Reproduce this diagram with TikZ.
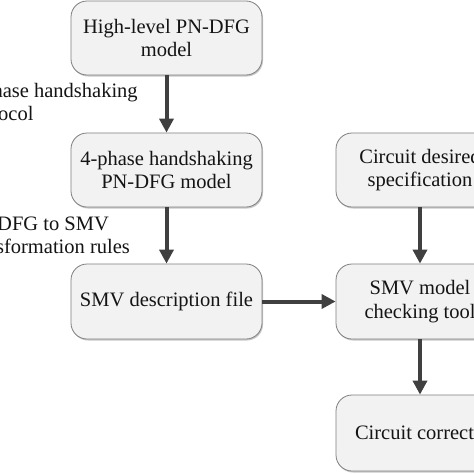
\documentclass[tikz,border=0pt]{standalone}
\usepackage{fontspec}
\setmainfont{Liberation Serif}
\usetikzlibrary{arrows.meta,shadows}
\definecolor{boxfill}{HTML}{F2F2F2}
\definecolor{boxline}{HTML}{7F7F7F}
\definecolor{arrowc}{HTML}{404040}
\definecolor{textc}{HTML}{141414}
\begin{document}
\begin{tikzpicture}[x=1pt,y=-1pt,
  procbox/.style={draw=boxline, line width=0.8pt, fill=boxfill, rounded corners=16pt,
    align=center, font=\fontsize{20.5}{23.5}\selectfont, text=textc, inner sep=0pt,
    drop shadow={shadow xshift=1pt, shadow yshift=-1.5pt, fill=black, opacity=0.22}},
  leftbox/.style={procbox, minimum width=191pt},
  rightbox/.style={procbox, minimum width=168pt},
  flow/.style={draw=arrowc, line width=4pt, -{Triangle[length=14pt,width=14pt]}},
  sidelabel/.style={align=left, anchor=north west, inner sep=0pt, text=textc,
    font=\fontsize{20.5}{23.5}\selectfont}]
\useasboundingbox (0,0) rectangle (474,474);
\clip (0,0) rectangle (474,474);
\fill[white] (0,0) rectangle (474,474);

\node[leftbox, minimum height=74pt] (hl) at (166.5,38) {High-level PN-DFG\\model};
\node[leftbox, minimum height=74pt] (fp) at (166.5,170) {4-phase handshaking\\PN-DFG model};
\node[leftbox, minimum height=75pt] (smv) at (166.5,301.5) {SMV description file};

\node[rightbox, minimum height=74pt] (spec) at (420,170) {Circuit desired\\specification};
\node[rightbox, minimum height=75pt] (tool) at (420,301.5) {SMV model\\checking tool};
\node[rightbox, minimum height=76pt] (res) at (420,433) {\makebox[130pt][l]{Circuit correctness}};

\node[sidelabel] (l1) at (-35,83) {4-phase handshaking\\protocol};
\node[sidelabel] (l2) at (-36,216.5) {PN-DFG to SMV\\transformation rules};

\draw[flow] (hl.south) -- (fp.north);
\draw[flow] (fp.south) -- (smv.north);
\draw[flow] (smv.east) -- (tool.west);
\draw[flow] (spec.south) -- (tool.north);
\draw[flow] (tool.south) -- (res.north);
\end{tikzpicture}
\end{document}
